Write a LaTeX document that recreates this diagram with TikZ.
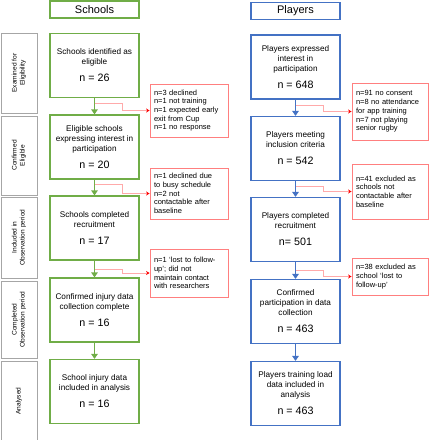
\documentclass[tikz,border=0pt]{standalone}
\usepackage{fontspec}
\setmainfont{Liberation Sans}
\usetikzlibrary{arrows.meta,positioning}
\definecolor{schoolc}{HTML}{70AD47}
\definecolor{playerc}{HTML}{4472C4}
\definecolor{exclc}{HTML}{FF7F7F}
\definecolor{exline}{HTML}{FFAAAA}
\definecolor{stagec}{HTML}{A6A6A6}
\newcommand{\nval}[1]{{\fontsize{10.7}{12}\selectfont #1}}

\begin{document}
\begin{tikzpicture}[
  x=1pt, y=-1pt,
  >=Stealth,
  head/.style={draw=#1, line width=1.2pt, minimum width=89pt, minimum height=17pt, inner sep=0pt, font=\fontsize{11}{12}\selectfont},
  stagebox/.style={draw=#1, line width=1.2pt, minimum width=89pt, minimum height=64pt, inner sep=1pt, align=center, font=\fontsize{8.2}{10}\selectfont},
  excl/.style={draw=exclc, line width=0.9pt, text width=70pt, inner sep=4pt, align=left, font=\fontsize{7.5}{8.7}\selectfont},
  phase/.style={draw=stagec, line width=0.8pt, rotate=90, minimum height=36pt, inner sep=1pt, align=center, font=\fontsize{6.6}{8}\selectfont},
  arr/.style={-{Triangle[width=6.5pt,length=5pt]}, line width=1.8pt, color=#1},
  exarr/.style={-{Stealth[width=4pt,length=3.5pt,color=red]}, line width=0.9pt, color=exline},
]
\useasboundingbox (0,0) rectangle (430,440);

% phases
\node[phase, minimum width=80pt] (ph1) at (19,73) {Examined for\\Eligibility};
\node[phase, minimum width=79pt] (ph2) at (19,155.5) {Confirmed\\Eligible};
\node[phase, minimum width=81pt] (ph3) at (19,237.5) {Included in\\Observation period};
\node[phase, minimum width=77pt] (ph4) at (19,319.5) {Completed\\Observation period};
\node[phase, minimum width=80pt] (ph5) at (19,401) {Analysed};

% schools
\node[head=schoolc] (sh) at (94.5,9.5) {Schools};
\node[stagebox=schoolc] (s1) at (94.5,65.5) {Schools identified as\\eligible\\[7pt]\nval{n = 26}};
\node[stagebox=schoolc] (s2) at (94.5,147) {Eligible schools\\expressing interest in\\participation\\[7pt]\nval{n = 20}};
\node[stagebox=schoolc] (s3) at (94.5,228) {Schools completed\\recruitment\\[7pt]\nval{n = 17}};
\node[stagebox=schoolc] (s4) at (94.5,310) {Confirmed injury data\\collection complete\\[7pt]\nval{n = 16}};
\node[stagebox=schoolc] (s5) at (94.5,391.5) {School injury data\\included in analysis\\[7pt]\nval{n = 16}};

\node[excl, minimum height=53pt] (sx1) at (189,110.5) {n=3 declined\\n=1 not training\\n=1 expected early\\exit from Cup\\n=1 no response};
\node[excl, minimum height=51pt] (sx2) at (189,193.5) {n=1 declined due\\to busy schedule\\n=2 not\\contactable after\\baseline};
\node[excl, minimum height=48pt] (sx3) at (189,273) {n=1 `lost to follow-\\up'; did not\\maintain contact\\with researchers};

% players
\node[head=playerc] (ph) at (295.5,11) {Players};
\node[stagebox=playerc] (p1) at (295.5,67) {Players expressed\\interest in\\participation\\[7pt]\nval{n = 648}};
\node[stagebox=playerc] (p2) at (295.5,148.5) {Players meeting\\inclusion criteria\\[7pt]\nval{n = 542}};
\node[stagebox=playerc] (p3) at (295.5,229.5) {Players completed\\recruitment\\[7pt]\nval{n= 501}};
\node[stagebox=playerc] (p4) at (295.5,311.5) {Confirmed\\participation in data\\collection\\[7pt]\nval{n = 463}};
\node[stagebox=playerc] (p5) at (295.5,393.5) {Players training load\\data included in\\analysis\\[7pt]\nval{n = 463}};

\node[excl, minimum height=57pt, text width=68pt] (px1) at (390,111.5) {n=91 no consent\\n=8 no attendance\\for app training\\n=7 not playing\\senior rugby};
\node[excl, minimum height=55pt, text width=68pt] (px2) at (390,191.5) {n=41 excluded as\\schools not\\contactable after\\baseline};
\node[excl, minimum height=37pt, text width=68pt] (px3) at (390,276.5) {n=38 excluded as\\school `lost to\\follow-up'};

% flow
\draw[arr=schoolc] (s1) -- coordinate[pos=0.3] (sc1) (s2);
\draw[arr=schoolc] (s2) -- coordinate[pos=0.3] (sc2) (s3);
\draw[arr=schoolc] (s3) -- coordinate[pos=0.5] (sc3) (s4);
\draw[arr=schoolc] (s4) -- (s5);
\draw[arr=playerc] (p1) -- coordinate[pos=0.35] (pc1) (p2);
\draw[arr=playerc] (p2) -- coordinate[pos=0.35] (pc2) (p3);
\draw[arr=playerc] (p3) -- coordinate[pos=0.5] (pc3) (p4);
\draw[arr=playerc] (p4) -- (p5);

% exclusions
\draw[exarr] (sc1) -- ++(28,0) |- (sx1.west);
\draw[exarr] (sc2) -- ++(28,0) |- (sx2.west);
\draw[exarr] (sc3) -- ++(28,0) |- (sx3.west);
\draw[exarr] (pc1) -- ++(28,0) |- (px1.west);
\draw[exarr] (pc2) -- ++(28,0) |- (px2.west);
\draw[exarr] (pc3) -- ++(28,0) |- (px3.west);

\end{tikzpicture}
\end{document}
